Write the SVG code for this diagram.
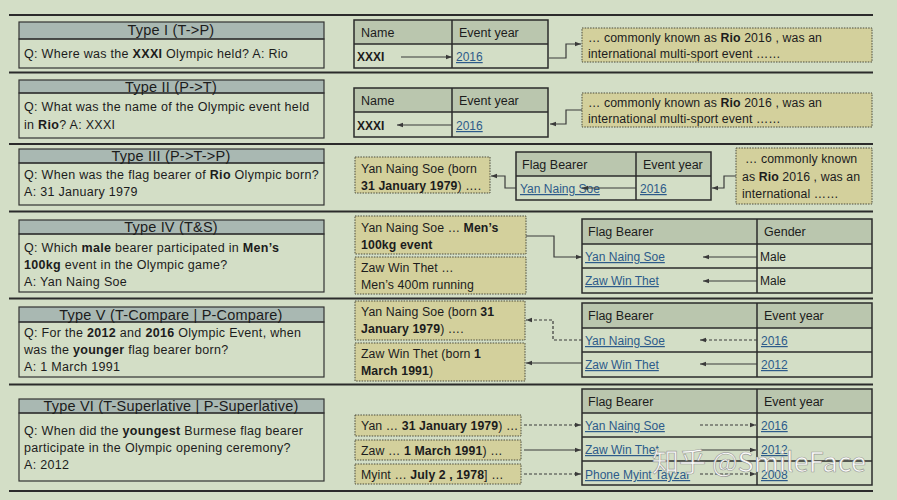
<svg xmlns="http://www.w3.org/2000/svg" width="897" height="500" viewBox="0 0 897 500">
<defs>
<marker id="ah" viewBox="0 0 6 6" refX="6" refY="3" markerWidth="6" markerHeight="6" markerUnits="userSpaceOnUse" orient="auto">
<path d="M0,0.8 L6,3 L0,5.2 Z" fill="#3a3a3a"/>
</marker>
<style>
text{font-family:"Liberation Sans",Arial,sans-serif;font-size:12px;fill:#1c1c1c}
.q{font-size:12.5px;letter-spacing:0.3px}
.y{font-size:12.3px;letter-spacing:0.1px}
.h{font-size:14.5px;letter-spacing:0.2px;text-anchor:middle}
.th{font-size:12.5px}
.lk{fill:#2d5b8a;text-decoration:underline}
.b{font-weight:bold}
.sep{stroke:#2b2b2b;stroke-width:2}
.hdr{fill:#a9b8b2;stroke:#333;stroke-width:1.2}
.bx{fill:none;stroke:#333;stroke-width:1.2}
.yb{fill:#d3d09c;stroke:#4a4a3a;stroke-width:1;stroke-dasharray:1.5 1.2}
.tbh{fill:#bac6ae;stroke:none}
.tl{fill:none;stroke:#2b2b2b;stroke-width:1.5}
.c{fill:none;stroke:#3a3a3a;stroke-width:1.2}
.d{stroke-dasharray:3 2}
.wm{font-family:"Noto Sans CJK SC","Noto Sans",sans-serif;font-size:27px;fill:#ffffff;fill-opacity:0.95;stroke:#7a7a7a;stroke-width:0.7;stroke-opacity:0.7}
</style>
</defs>
<rect width="897" height="500" fill="#d3dec6"/>

<g id="separators">
<line class="sep" x1="9" y1="15" x2="873" y2="15"/>
<line class="sep" x1="9" y1="72.5" x2="873" y2="72.5"/>
<line class="sep" x1="9" y1="144" x2="873" y2="144"/>
<line class="sep" x1="9" y1="211.5" x2="873" y2="211.5"/>
<line class="sep" x1="9" y1="298.5" x2="873" y2="298.5"/>
<line class="sep" x1="9" y1="384.5" x2="873" y2="384.5"/>
<line class="sep" x1="9" y1="491" x2="873" y2="491"/>
</g>

<!-- Left question boxes -->
<g id="q1">
<rect class="hdr" x="19" y="22" width="305" height="17"/>
<rect class="bx" x="19" y="39" width="305" height="29"/>
<text class="h" x="171" y="35">Type I (T-&gt;P)</text>
<text class="q" x="24" y="58">Q: Where was the <tspan class="b">XXXI</tspan> Olympic held? A: Rio</text>
</g>
<g id="q2">
<rect class="hdr" x="19" y="80" width="305" height="13"/>
<rect class="bx" x="19" y="93" width="305" height="45"/>
<text class="h" x="171" y="92">Type II (P-&gt;T)</text>
<text class="q" x="24" y="111">Q: What was the name of the Olympic event held</text>
<text class="q" x="24" y="129">in <tspan class="b">Rio</tspan>? A: XXXI</text>
</g>
<g id="q3">
<rect class="hdr" x="19" y="149" width="305" height="14"/>
<rect class="bx" x="19" y="163" width="305" height="42"/>
<text class="h" x="171" y="161">Type III (P-&gt;T-&gt;P)</text>
<text class="q" x="24" y="179">Q: When was the flag bearer of <tspan class="b">Rio</tspan> Olympic born?</text>
<text class="q" x="24" y="196">A: 31 January 1979</text>
</g>
<g id="q4">
<rect class="hdr" x="19" y="220" width="305" height="14"/>
<rect class="bx" x="19" y="234" width="305" height="58"/>
<text class="h" x="171" y="232">Type IV (T&amp;S)</text>
<text class="q" x="24" y="252">Q: Which <tspan class="b">male</tspan> bearer participated in <tspan class="b">Men’s</tspan></text>
<text class="q" x="24" y="269"><tspan class="b">100kg</tspan> event in the Olympic game?</text>
<text class="q" x="24" y="286">A: Yan Naing Soe</text>
</g>
<g id="q5">
<rect class="hdr" x="19" y="307" width="305" height="15"/>
<rect class="bx" x="19" y="322" width="305" height="55"/>
<text class="h" x="171" y="320">Type V (T-Compare | P-Compare)</text>
<text class="q" x="24" y="337">Q: For the <tspan class="b">2012</tspan> and <tspan class="b">2016</tspan> Olympic Event, when</text>
<text class="q" x="24" y="354">was the <tspan class="b">younger</tspan> flag bearer born?</text>
<text class="q" x="24" y="371">A: 1 March 1991</text>
</g>
<g id="q6">
<rect class="hdr" x="19" y="399" width="305" height="14"/>
<rect class="bx" x="19" y="413" width="305" height="68"/>
<text class="h" x="171" y="411">Type VI (T-Superlative | P-Superlative)</text>
<text class="q" x="24" y="435">Q: When did the <tspan class="b">youngest</tspan> Burmese flag bearer</text>
<text class="q" x="24" y="452">participate in the Olympic opening ceremony?</text>
<text class="q" x="24" y="469">A: 2012</text>
</g>

<!-- Row I -->
<g id="t1">
<rect class="tbh" x="354" y="20" width="194" height="24"/>
<rect class="tl" x="354" y="20" width="194" height="48"/>
<line class="tl" x1="354" y1="44" x2="548" y2="44"/>
<line class="tl" x1="452" y1="20" x2="452" y2="68"/>
<text class="th" x="361" y="37">Name</text>
<text class="th" x="459" y="37">Event year</text>
<text class="b" x="357" y="61">XXXI</text>
<text class="lk" x="456" y="61">2016</text>
</g>
<g id="p1">
<rect class="yb" x="582" y="28" width="290" height="34"/>
<text class="y" x="588" y="42">… commonly known as <tspan class="b">Rio</tspan> 2016 , was an</text>
<text class="y" x="588" y="58">international multi-sport event ……</text>
</g>

<!-- Row II -->
<g id="t2">
<rect class="tbh" x="354" y="88" width="194" height="24"/>
<rect class="tl" x="354" y="88" width="194" height="49"/>
<line class="tl" x1="354" y1="112" x2="548" y2="112"/>
<line class="tl" x1="452" y1="88" x2="452" y2="137"/>
<text class="th" x="361" y="105">Name</text>
<text class="th" x="459" y="105">Event year</text>
<text class="b" x="357" y="130">XXXI</text>
<text class="lk" x="456" y="130">2016</text>
</g>
<g id="p2">
<rect class="yb" x="582" y="93" width="290" height="34"/>
<text class="y" x="588" y="107">… commonly known as <tspan class="b">Rio</tspan> 2016 , was an</text>
<text class="y" x="588" y="123">international multi-sport event ……</text>
</g>

<!-- Row III -->
<g id="p3a">
<rect class="yb" x="355" y="157" width="135" height="36"/>
<text class="y" x="361" y="173">Yan Naing Soe (born</text>
<text class="y" x="361" y="190"><tspan class="b">31 January 1979</tspan>) ….</text>
</g>
<g id="t3">
<rect class="tbh" x="516" y="152" width="195" height="24"/>
<rect class="tl" x="516" y="152" width="195" height="48"/>
<line class="tl" x1="516" y1="176" x2="711" y2="176"/>
<line class="tl" x1="636" y1="152" x2="636" y2="200"/>
<text class="th" x="522" y="169">Flag Bearer</text>
<text class="th" x="643" y="169">Event year</text>
<text class="lk" x="520" y="193">Yan Naing Soe</text>
<text class="lk" x="640" y="193">2016</text>
</g>
<g id="p3b">
<rect class="yb" x="736" y="148" width="136" height="56"/>
<text class="y" x="745" y="163">… commonly known</text>
<text class="y" x="742" y="181">as <tspan class="b">Rio</tspan> 2016 , was an</text>
<text class="y" x="742" y="198">international ……</text>
</g>

<!-- Row IV -->
<g id="p4a">
<rect class="yb" x="355" y="216" width="171" height="38"/>
<text class="y" x="361" y="232">Yan Naing Soe … <tspan class="b">Men’s</tspan></text>
<text class="y b" x="361" y="249">100kg event</text>
</g>
<g id="p4b">
<rect class="yb" x="355" y="257" width="171" height="37"/>
<text class="y" x="361" y="272">Zaw Win Thet …</text>
<text class="y" x="361" y="289">Men’s 400m running</text>
</g>
<g id="t4">
<rect class="tbh" x="582" y="219" width="290" height="25"/>
<rect class="tl" x="582" y="219" width="290" height="74"/>
<line class="tl" x1="582" y1="244" x2="872" y2="244"/>
<line class="tl" x1="582" y1="268" x2="872" y2="268"/>
<line class="tl" x1="757" y1="219" x2="757" y2="293"/>
<text class="th" x="588" y="236">Flag Bearer</text>
<text class="th" x="764" y="236">Gender</text>
<text class="lk" x="585" y="261">Yan Naing Soe</text>
<text x="760" y="261">Male</text>
<text class="lk" x="585" y="285">Zaw Win Thet</text>
<text x="760" y="285">Male</text>
</g>

<!-- Row V -->
<g id="p5a">
<rect class="yb" x="355" y="301" width="170" height="39"/>
<text class="y" x="361" y="316">Yan Naing Soe (born <tspan class="b">31</tspan></text>
<text class="y" x="361" y="333"><tspan class="b">January 1979</tspan>) ….</text>
</g>
<g id="p5b">
<rect class="yb" x="355" y="343" width="170" height="38"/>
<text class="y" x="361" y="358">Zaw Win Thet (born <tspan class="b">1</tspan></text>
<text class="y" x="361" y="375"><tspan class="b">March 1991</tspan>)</text>
</g>
<g id="t5">
<rect class="tbh" x="582" y="303" width="290" height="25"/>
<rect class="tl" x="582" y="303" width="290" height="74"/>
<line class="tl" x1="582" y1="328" x2="872" y2="328"/>
<line class="tl" x1="582" y1="352" x2="872" y2="352"/>
<line class="tl" x1="757" y1="303" x2="757" y2="377"/>
<text class="th" x="588" y="320">Flag Bearer</text>
<text class="th" x="764" y="320">Event year</text>
<text class="lk" x="585" y="345">Yan Naing Soe</text>
<text class="lk" x="761" y="345">2016</text>
<text class="lk" x="585" y="369">Zaw Win Thet</text>
<text class="lk" x="761" y="369">2012</text>
</g>

<!-- Row VI -->
<g id="p6a">
<rect class="yb" x="355" y="415" width="166" height="21"/>
<text class="y" x="361" y="430">Yan … <tspan class="b">31 January 1979</tspan>) …</text>
</g>
<g id="p6b">
<rect class="yb" x="355" y="440" width="166" height="20"/>
<text class="y" x="361" y="455">Zaw … <tspan class="b">1 March 1991</tspan>) …</text>
</g>
<g id="p6c">
<rect class="yb" x="355" y="464" width="166" height="20"/>
<text class="y" x="361" y="479">Myint … <tspan class="b">July 2 , 1978</tspan>] …</text>
</g>
<g id="t6">
<rect class="tbh" x="582" y="389" width="290" height="24"/>
<rect class="tl" x="582" y="389" width="290" height="96"/>
<line class="tl" x1="582" y1="413" x2="872" y2="413"/>
<line class="tl" x1="582" y1="437" x2="872" y2="437"/>
<line class="tl" x1="582" y1="461" x2="872" y2="461"/>
<line class="tl" x1="757" y1="389" x2="757" y2="485"/>
<text class="th" x="588" y="406">Flag Bearer</text>
<text class="th" x="764" y="406">Event year</text>
<text class="lk" x="585" y="430">Yan Naing Soe</text>
<text class="lk" x="761" y="430">2016</text>
<text class="lk" x="585" y="454">Zaw Win Thet</text>
<text class="lk" x="761" y="454">2012</text>
<text class="lk" x="585" y="479">Phone Myint Tayzar</text>
<text class="lk" x="761" y="479">2008</text>
</g>

<g id="connectors">
<!-- Row I -->
<line class="c" x1="401" y1="57" x2="452" y2="57" marker-end="url(#ah)"/>
<polyline class="c" points="549,58 566,58 566,44 581,44" marker-end="url(#ah)"/>
<!-- Row II -->
<line class="c" x1="452" y1="125" x2="397" y2="125" marker-end="url(#ah)"/>
<polyline class="c" points="582,110 566,110 566,124 550,124" marker-end="url(#ah)"/>
<!-- Row III -->
<line class="c" x1="636" y1="188" x2="582" y2="188" marker-end="url(#ah)"/>
<polyline class="c" points="516,188 505,188 505,176 491,176" marker-end="url(#ah)"/>
<polyline class="c" points="736,176 724,176 724,188 712,188" marker-end="url(#ah)"/>
<!-- Row IV -->
<polyline class="c" points="526,236 554,236 554,257 582,257" marker-end="url(#ah)"/>
<line class="c" x1="757" y1="257" x2="703" y2="257" marker-end="url(#ah)"/>
<line class="c" x1="757" y1="281" x2="703" y2="281" marker-end="url(#ah)"/>
<!-- Row V -->
<polyline class="c d" points="582,340 553,340 553,320 526,320" marker-end="url(#ah)"/>
<line class="c" x1="582" y1="363" x2="526" y2="363" marker-end="url(#ah)"/>
<line class="c d" x1="757" y1="340" x2="700" y2="340" marker-end="url(#ah)"/>
<line class="c" x1="757" y1="364" x2="700" y2="364" marker-end="url(#ah)"/>
<!-- Row VI -->
<line class="c d" x1="524" y1="425" x2="581" y2="425" marker-end="url(#ah)"/>
<line class="c" x1="524" y1="450" x2="581" y2="450" marker-end="url(#ah)"/>
<line class="c d" x1="524" y1="474" x2="581" y2="474" marker-end="url(#ah)"/>
<line class="c d" x1="700" y1="425" x2="756" y2="425" marker-end="url(#ah)"/>
<line class="c" x1="700" y1="450" x2="756" y2="450" marker-end="url(#ah)"/>
<line class="c d" x1="700" y1="474" x2="756" y2="474" marker-end="url(#ah)"/>
</g>

<text class="wm" x="652" y="472">知乎 @SmileFace</text>
</svg>
